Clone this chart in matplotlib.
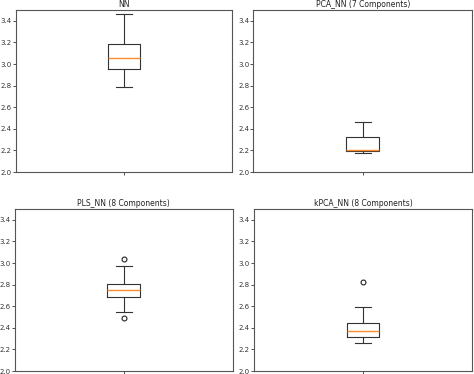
import matplotlib
matplotlib.use('Agg')
import matplotlib.pyplot as plt

# 每个子图的标题
titles = ['NN', 'PCA_NN (7 Components)', 'PLS_NN (8 Components)', 'kPCA_NN (8 Components)']

# 箱线图统计量
medians = [3.058, 2.200, 2.751, 2.374]
q1s = [2.954, 2.195, 2.683, 2.313]
q3s = [3.185, 2.326, 2.806, 2.447]
whis_lo = [2.787, 2.175, 2.544, 2.261]
whis_hi = [3.466, 2.467, 2.972, 2.590]
outliers = [[], [], [3.037, 2.493], [2.821]]

W, H = 474, 374
fig = plt.figure(figsize=(W / 100, H / 100), dpi=100)

# 轴的位置（像素，左、上、右、下）
boxes_px = [(16, 10, 232.5, 172), (253.5, 10, 472, 172),
            (15, 209, 232.5, 371), (254, 209, 472, 371)]

for i, (l, t, r, b) in enumerate(boxes_px):
    ax = fig.add_axes([l / W, 1 - b / H, (r - l) / W, (b - t) / H])
    stats = [{
        'med': medians[i], 'q1': q1s[i], 'q3': q3s[i],
        'whislo': whis_lo[i], 'whishi': whis_hi[i], 'fliers': outliers[i],
    }]
    ax.bxp(stats, widths=0.15, showfliers=True,
           boxprops=dict(linewidth=0.8, color='#333333'),
           whiskerprops=dict(linewidth=0.8, color='#333333'),
           capprops=dict(linewidth=0.8, color='#333333'),
           medianprops=dict(linewidth=1.0, color='#ff8c2a'),
           flierprops=dict(marker='o', markersize=3.5, markerfacecolor='none',
                           markeredgecolor='#222222', markeredgewidth=0.8))
    ax.set_ylim(2.0, 3.5)
    ax.set_xlim(0.5, 1.5)
    ax.set_xticks([1])
    ax.set_xticklabels([''])
    ax.set_yticks([2.0, 2.2, 2.4, 2.6, 2.8, 3.0, 3.2, 3.4])
    ax.tick_params(labelsize=5, length=2, width=0.6, pad=1, colors='#333333')
    for s in ax.spines.values():
        s.set_linewidth(0.8)
        s.set_color('#555555')
    ax.set_title(titles[i], fontsize=5.5, pad=2, color='#222222')

fig.savefig('out.png', dpi=100)
